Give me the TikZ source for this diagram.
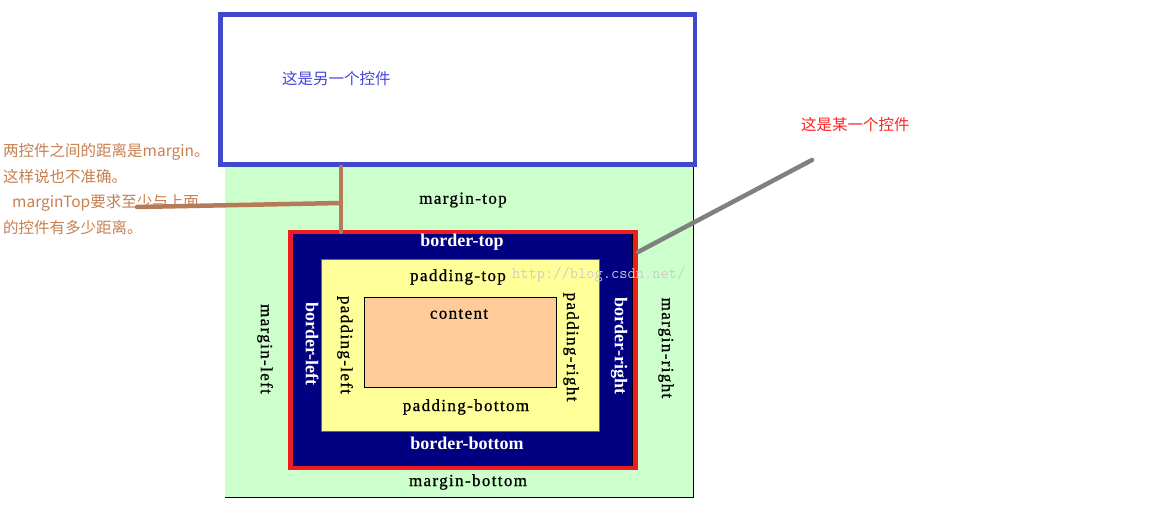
\documentclass[tikz,border=0pt]{standalone}
\usepackage{fontspec}
\setmainfont{Liberation Serif}
\newfontfamily\cjk{Noto Sans CJK SC}
\newfontfamily\lblfont[LetterSpace=8,FakeBold=0.9]{Liberation Serif}
\definecolor{mgreen}{RGB}{204,255,204}
\definecolor{bnavy}{RGB}{0,0,128}
\definecolor{pyellow}{RGB}{255,255,153}
\definecolor{cpeach}{RGB}{255,204,153}
\definecolor{bred}{RGB}{237,28,36}
\definecolor{oblue}{RGB}{64,72,204}
\definecolor{otext}{RGB}{68,68,221}
\definecolor{rtext}{RGB}{255,34,34}
\definecolor{note}{RGB}{200,128,80}
\definecolor{leader}{RGB}{182,122,88}
\begin{document}
\begin{tikzpicture}[x=1pt,y=-1pt,
  box/.style={rectangle,inner sep=0pt,outer sep=0pt},
  blk/.style={inner sep=0pt,font=\lblfont\fontsize{17}{20}\selectfont,text=black},
  wht/.style={inner sep=0pt,font=\bfseries\fontsize{18}{21}\selectfont,text=white},
  cn/.style={inner sep=0pt,font=\cjk\fontsize{15.5}{18}\selectfont},
  leaderline/.style={draw=leader,line width=4.5pt,line cap=round},
  pointer/.style={draw=gray,line width=4.5pt,line cap=round}]
\useasboundingbox (0,0) rectangle (1153,529);
\fill[white] (0,0) rectangle (1153,529);
% margin area
\node[box,fill=mgreen,minimum width=468pt,minimum height=333pt] (margin) at (459,330.5) {};
\draw[black,line width=1pt] (margin.north east) -- (margin.south east) -- (margin.south west);
% border (navy)
\node[box,fill=bnavy,draw=black,line width=0.8pt,minimum width=340pt,minimum height=236pt] (border) at (462,348) {};
% red outline
\node[box,draw=bred,line width=4.5pt,minimum width=345pt,minimum height=235.5pt] (redbox) at (462.9,350) {};
% padding (yellow)
\node[box,fill=pyellow,draw=black!60,line width=0.6pt,minimum width=278pt,minimum height=172pt] (padding) at (460,345) {};
% content
\node[box,fill=cpeach,draw=black,line width=0.8pt,minimum width=192pt,minimum height=90pt] (content) at (460,342) {};
% other control
\node[box,fill=white,draw=oblue,line width=4.5pt,minimum width=474.5pt,minimum height=150pt] (other) at (457.75,89.5) {};
% watermark
\node[inner sep=0pt,font=\ttfamily\fontsize{16}{19}\selectfont,text=gray!40,anchor=west] (wm) at (512,275) {http://blog.csdn.net/};
% labels
\node[blk] (mtop) at (463,200) {margin-top};
\node[wht] (btop) at (462,242) {border-top};
\node[blk] (ptop) at (458,277) {padding-top};
\node[blk] (ctext) at (459,314) {content};
\node[blk] (pbot) at (466,407) {padding-bottom};
\node[wht] (bbot) at (467,443) {border-bottom};
\node[blk] (mbot) at (468,482) {margin-bottom};
\node[blk,rotate=-90] (mleft) at (265,349) {margin-left};
\node[wht,rotate=-90] (bleft) at (312,344) {border-left};
\node[blk,rotate=-90] (pleft) at (345,345) {padding-left};
\node[blk,rotate=-90] (pright) at (571,347) {padding-right};
\node[wht,rotate=-90] (bright) at (619,346) {border-right};
\node[blk,rotate=-90] (mright) at (666,348) {margin-right};
% captions
\node[cn,text=otext,anchor=west] (othertext) at (282,79) {这是另一个控件};
\node[cn,text=rtext,anchor=west] (thistext) at (801,125) {这是某一个控件};
\node[cn,text=note,anchor=west] (n1) at (3,152) {两控件之间的距离是margin。};
\node[cn,text=note,anchor=west] (n2) at (3,177) {这样说也不准确。};
\node[cn,text=note,anchor=west] (n3) at (12,203) {marginTop要求至少与上面};
\node[cn,text=note,anchor=west] (n4) at (3,228) {的控件有多少距离。};
% leader lines
\coordinate (ltop) at (341,167);
\coordinate (lbot) at (341,232);
\coordinate (ljoin) at (341,203);
\coordinate (lstart) at (137,207);
\draw[leaderline] (ltop) -- (lbot);
\draw[leaderline] (lstart) -- (ljoin);
\coordinate (pstart) at (638,252);
\coordinate (pend) at (812,160);
\draw[pointer] (pstart) -- (pend);
\end{tikzpicture}
\end{document}
